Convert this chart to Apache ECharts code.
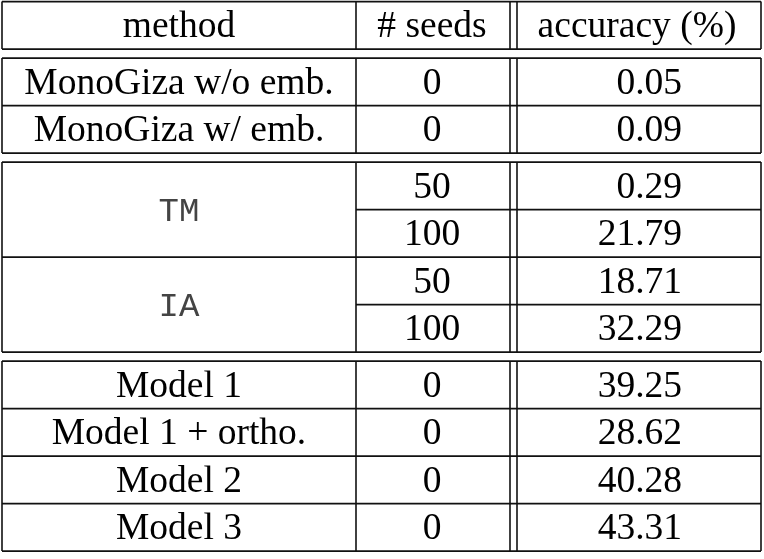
<!DOCTYPE html>
<html><head><meta charset="utf-8">
<script src="https://cdn.jsdelivr.net/npm/echarts@6/dist/echarts.min.js"></script>
<style>html,body{margin:0;padding:0;background:#fff}#c{width:764px;height:559px}</style>
</head><body><div id="c"></div>
<script>
const headers = ["method", "# seeds", "accuracy (%)"];
const methods = ["MonoGiza w/o emb.", "MonoGiza w/ emb.", "TM", "IA", "Model 1", "Model 1 + ortho.", "Model 2", "Model 3"];
const methodSpan = [1, 1, 2, 2, 1, 1, 1, 1];
const monoMethods = ["TM", "IA"];
const seeds = ["0", "0", "50", "100", "50", "100", "0", "0", "0", "0"];
const accuracy = ["0.05", "0.09", "0.29", "21.79", "18.71", "32.29", "39.25", "28.62", "40.28", "43.31"];
const rowGroup = [1, 1, 2, 2, 2, 2, 3, 3, 3, 3];

// layout constants
const Y0 = 1.6, H = 47.5, GAP = 9;
const XL = 2, XM = 356, XA1 = 510, XA2 = 517, XR = 761;
const XMETH = 179, XSEED = 432, XACC_HEAD = 637, XACC_RIGHT = 682;
const rowTop = (r) => Y0 + (r + 1) * H + rowGroup[r] * GAP;
const rowBot = (r) => rowTop(r) + H;

const items = [];
items.push({t: 'text', x: XMETH, y: Y0 + H / 2, s: headers[0], a: 'center'});
items.push({t: 'text', x: XSEED, y: Y0 + H / 2, s: headers[1], a: 'center'});
items.push({t: 'text', x: XACC_HEAD, y: Y0 + H / 2, s: headers[2], a: 'center'});
let r = 0;
methods.forEach((m, i) => {
  const span = methodSpan[i];
  const top = rowTop(r), bot = rowBot(r + span - 1);
  items.push({t: 'text', x: XMETH, y: (top + bot) / 2, s: m, a: 'center', mono: monoMethods.includes(m)});
  r += span;
});
seeds.forEach((s, k) => {
  const cy = (rowTop(k) + rowBot(k)) / 2;
  items.push({t: 'text', x: XSEED, y: cy, s: s, a: 'center'});
  items.push({t: 'text', x: XACC_RIGHT, y: cy, s: accuracy[k], a: 'right'});
});
items.push({t: 'line', x1: XL, x2: XR, y1: Y0, y2: Y0});
items.push({t: 'line', x1: XL, x2: XR, y1: Y0 + H, y2: Y0 + H});
const segs = [[Y0, Y0 + H]];
let segStart = rowTop(0);
for (let k = 0; k < seeds.length; k++) {
  if (k === 0 || rowGroup[k] !== rowGroup[k - 1]) {
    items.push({t: 'line', x1: XL, x2: XR, y1: rowTop(k), y2: rowTop(k)});
    if (k > 0) segs.push([segStart, rowBot(k - 1)]);
    segStart = rowTop(k);
  }
  items.push({t: 'line', x1: XL, x2: XR, y1: rowBot(k), y2: rowBot(k), partial: true, k: k});
}
segs.push([segStart, rowBot(seeds.length - 1)]);
let rr = 0; const inner = new Set();
methods.forEach((m, i) => { for (let j = 0; j < methodSpan[i] - 1; j++) inner.add(rr + j); rr += methodSpan[i]; });
items.forEach(it => { if (it.partial && inner.has(it.k)) it.x1 = XM; });
segs.forEach(([a, b]) => {
  [XL, XM, XA1, XA2, XR].forEach(x => items.push({t: 'line', x1: x, x2: x, y1: a, y2: b}));
});

const chart = echarts.init(document.getElementById('c'));
chart.setOption({
  animation: false,
  grid: {left: 0, right: 0, top: 0, bottom: 0},
  xAxis: {type: 'value', min: 0, max: 764, show: false},
  yAxis: {type: 'value', min: 0, max: 559, inverse: true, show: false},
  series: [{
    type: 'custom',
    coordinateSystem: 'cartesian2d',
    data: items.map((_, i) => [i]),
    renderItem: (params, api) => {
      const it = items[params.dataIndex];
      if (it.t === 'line') {
        const p1 = api.coord([it.x1, it.y1]), p2 = api.coord([it.x2, it.y2]);
        return {type: 'line', shape: {x1: p1[0], y1: p1[1], x2: p2[0], y2: p2[1]},
          style: {stroke: '#111', lineWidth: 1.6}};
      }
      const p = api.coord([it.x, it.y]);
      return {type: 'text', x: p[0], y: p[1] + 2,
        style: {text: it.s, textAlign: it.a, textVerticalAlign: 'middle',
          fontFamily: it.mono ? '"Liberation Mono", monospace' : '"Liberation Serif", serif',
          fontSize: it.mono ? 34 : 37.5, fill: it.mono ? '#444' : '#000'}};
    }
  }]
});
</script></body></html>
